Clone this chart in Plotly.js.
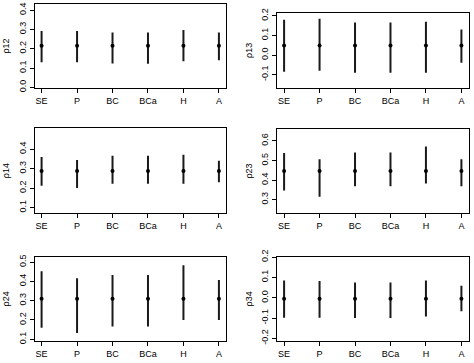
<!DOCTYPE html>
<html>
<head>
<meta charset="utf-8">
<script src="https://cdn.plot.ly/plotly-3.0.1.min.js"></script>
<style>html,body{margin:0;padding:0;background:#fff;}#chart{width:474px;height:363px;}</style>
</head>
<body>
<div id="chart"></div>
<script>
var methods = ["SE", "P", "BC", "BCa", "H", "A"];
var panelNames = ["ρ12", "ρ13", "ρ14", "ρ23", "ρ24", "ρ34"];
var estimates = [0.215, 0.049, 0.288, 0.446, 0.310, -0.005];

var lower12 = [0.130, 0.130, 0.123, 0.122, 0.135, 0.140];
var upper12 = [0.292, 0.292, 0.284, 0.284, 0.297, 0.284];
var lower13 = [-0.085, -0.080, -0.090, -0.090, -0.090, -0.039];
var upper13 = [0.180, 0.185, 0.166, 0.166, 0.170, 0.130];
var lower14 = [0.212, 0.200, 0.223, 0.223, 0.223, 0.230];
var upper14 = [0.360, 0.345, 0.367, 0.367, 0.372, 0.341];
var lower23 = [0.347, 0.315, 0.369, 0.369, 0.383, 0.369];
var upper23 = [0.538, 0.506, 0.541, 0.541, 0.572, 0.506];
var lower24 = [0.160, 0.133, 0.166, 0.166, 0.200, 0.200];
var upper24 = [0.452, 0.416, 0.433, 0.433, 0.484, 0.407];
var lower34 = [-0.098, -0.098, -0.100, -0.100, -0.092, -0.067];
var upper34 = [0.085, 0.082, 0.075, 0.075, 0.085, 0.059];

var yTicks12 = [0.0, 0.1, 0.2, 0.3, 0.4];
var yTicks13 = [-0.1, 0.0, 0.1, 0.2];
var yTicks14 = [0.1, 0.2, 0.3, 0.4];
var yTicks23 = [0.3, 0.4, 0.5, 0.6];
var yTicks24 = [0.1, 0.2, 0.3, 0.4, 0.5];
var yTicks34 = [-0.2, -0.1, 0.0, 0.1, 0.2];

var lowers = [lower12, lower13, lower14, lower23, lower24, lower34];
var uppers = [upper12, upper13, upper14, upper23, upper24, upper34];
var yTicks = [yTicks12, yTicks13, yTicks14, yTicks23, yTicks24, yTicks34];

// layout geometry (pixels)
var W = 474, H = 363;
var xPix = [[34.5, 226], [277, 468.5]];
var yPix = [[4, 88], [12.5, 88.3], [128.3, 213], [129, 213], [256.7, 341], [256.7, 341]];
var yRanges = [[-0.003, 0.431], [-0.1695, 0.217], [0.072, 0.5075], [0.232, 0.661], [0.091, 0.528], [-0.213, 0.202]];

var font = {family: "Liberation Sans, Arial, sans-serif", size: 9, color: "#000"};
var xIdx = methods.map(function (m, i) { return i + 1; });

var traces = [];
var layout = {
  width: W, height: H,
  margin: {l: 0, r: 0, t: 0, b: 0},
  paper_bgcolor: "#fff", plot_bgcolor: "#fff",
  showlegend: false,
  font: font
};

for (var p = 0; p < 6; p++) {
  var sfx = p === 0 ? "" : String(p + 1);
  var est = methods.map(function () { return estimates[p]; });
  var up = uppers[p].map(function (u) { return u - estimates[p]; });
  var lo = lowers[p].map(function (l) { return estimates[p] - l; });
  traces.push({
    type: "scatter", mode: "markers",
    x: xIdx, y: est,
    xaxis: "x" + sfx, yaxis: "y" + sfx,
    marker: {color: "#000", size: 4},
    error_y: {type: "data", symmetric: false, array: up, arrayminus: lo,
              color: "#1a1a1a", thickness: 2, width: 0},
    hoverinfo: "skip"
  });
  var col = p % 2;
  var xd = [xPix[col][0] / W, xPix[col][1] / W];
  var yd = [1 - yPix[p][1] / H, 1 - yPix[p][0] / H];
  layout["xaxis" + sfx] = {
    domain: xd, anchor: "y" + sfx, range: [0.8, 6.2],
    tickmode: "array", tickvals: xIdx, ticktext: methods,
    ticks: "outside", ticklen: 4, tickwidth: 1, tickcolor: "#000",
    showline: true, linecolor: "#000", linewidth: 1, mirror: true,
    showgrid: false, zeroline: false, tickfont: font, tickangle: 0
  };
  layout["yaxis" + sfx] = {
    domain: yd, anchor: "x" + sfx, range: yRanges[p],
    tickmode: "array", tickvals: yTicks[p],
    ticktext: yTicks[p].map(function (v) { return v.toFixed(1); }),
    ticks: "outside", ticklen: 4, tickwidth: 1, tickcolor: "#000",
    showline: true, linecolor: "#000", linewidth: 1, mirror: true,
    showgrid: false, zeroline: false, tickfont: font, tickangle: -90,
    title: {text: panelNames[p], font: font, standoff: 6}
  };
}

Plotly.newPlot("chart", traces, layout, {staticPlot: true, displayModeBar: false});
</script>
</body>
</html>
